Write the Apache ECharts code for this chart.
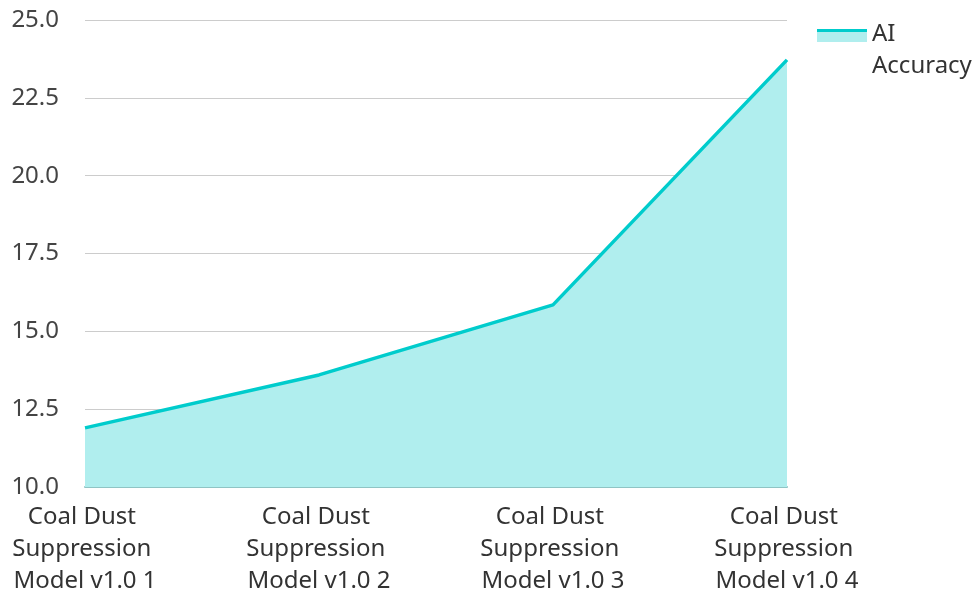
<!DOCTYPE html>
<html>
<head>
<meta charset="utf-8">
<script src="https://cdn.jsdelivr.net/npm/echarts@6/dist/echarts.min.js"></script>
<style>
  html, body { margin: 0; padding: 0; background: #fff; }
  #chart { width: 977px; height: 592px; }
</style>
</head>
<body>
<div id="chart"></div>
<script>
// Model versions and their measured accuracy
const categories = [
  'Coal Dust Suppression Model v1.0 1',
  'Coal Dust Suppression Model v1.0 2',
  'Coal Dust Suppression Model v1.0 3',
  'Coal Dust Suppression Model v1.0 4'
];
const accuracy = [11.9, 13.6, 15.85, 23.72];
const seriesName = 'AI Accuracy';
const yMin = 10, yMax = 25, yStep = 2.5;

const lineColor = '#00cccc';
const areaColor = '#b0eeee';

// Legend swatch: filled area with the line along its top edge,
// sitting at the top of a taller transparent box so it lines up with the first text line
const swatchSvg =
  '<svg xmlns="http://www.w3.org/2000/svg" width="50" height="42" viewBox="0 0 50 42">' +
  '<rect x="0" y="0" width="50" height="13" fill="' + areaColor + '"/>' +
  '<rect x="0" y="0" width="50" height="3" fill="' + lineColor + '"/></svg>';
const swatchIcon = 'image://data:image/svg+xml;charset=utf-8,' + encodeURIComponent(swatchSvg);

const chart = echarts.init(document.getElementById('chart'), null, { renderer: 'canvas' });
const font = 'Noto Sans';

chart.setOption({
  animation: false,
  textStyle: { fontFamily: font },
  grid: {
    left: 85, right: 190, top: 20, bottom: 105,
    containLabel: false,
    outerBoundsMode: 'none'
  },
  legend: {
    data: [{ name: seriesName, icon: swatchIcon }],
    orient: 'vertical',
    left: 812,
    top: 13,
    itemWidth: 50,
    itemHeight: 42,
    itemGap: 10,
    textStyle: {
      fontFamily: font,
      fontSize: 24,
      color: '#333',
      width: 105,
      overflow: 'break',
      lineHeight: 32
    }
  },
  xAxis: {
    type: 'category',
    data: categories,
    boundaryGap: false,
    axisLine: { lineStyle: { color: '#8fc4c4', width: 2 } },
    axisTick: { show: false },
    axisLabel: {
      interval: 0,
      fontFamily: font,
      fontSize: 24,
      color: '#333',
      lineHeight: 32,
      width: 170,
      overflow: 'break',
      margin: 14
    }
  },
  yAxis: {
    type: 'value',
    min: yMin,
    max: yMax,
    interval: yStep,
    axisLine: { show: false },
    axisTick: { show: false },
    splitLine: { lineStyle: { color: '#cccccc', width: 1 } },
    axisLabel: {
      fontFamily: font,
      fontSize: 24,
      color: '#444',
      margin: 26,
      formatter: v => v.toFixed(1)
    }
  },
  series: [{
    name: seriesName,
    type: 'line',
    data: accuracy,
    showSymbol: false,
    symbol: 'none',
    lineStyle: { color: lineColor, width: 3.5 },
    itemStyle: { color: lineColor },
    areaStyle: { color: areaColor, opacity: 1 }
  }]
});
</script>
</body>
</html>
